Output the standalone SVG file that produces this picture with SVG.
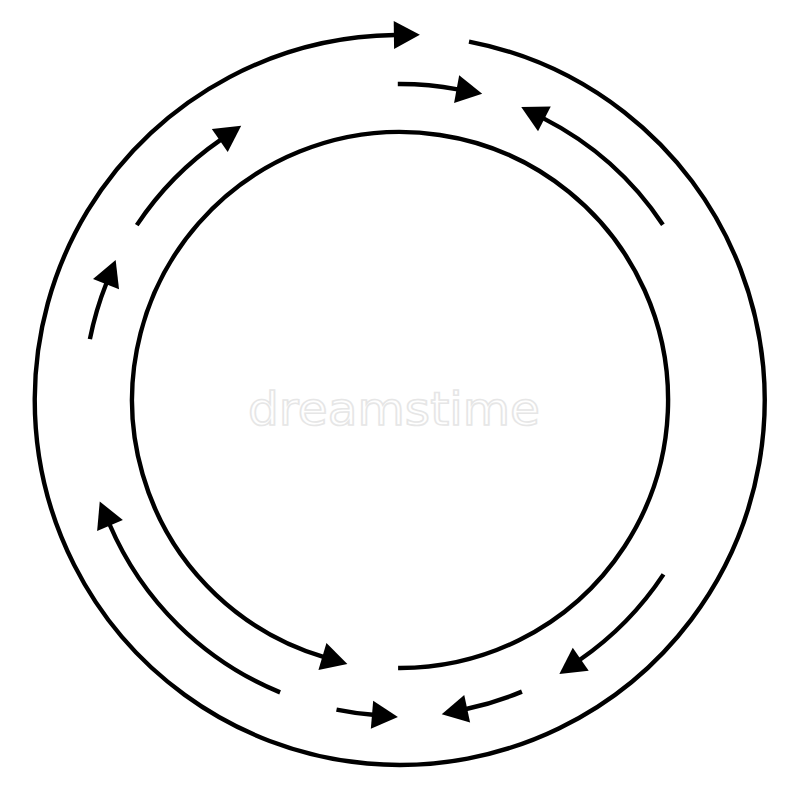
<svg xmlns="http://www.w3.org/2000/svg" width="800" height="800" viewBox="0 0 800 800">
  <style>
    .ring { fill: none; stroke: #000; stroke-width: 4.4; stroke-linecap: butt; marker-end: url(#head); }
    .wm { fill: none; stroke: #e6e6e6; stroke-width: 1.6; font-family: "DejaVu Sans", sans-serif; font-size: 46px; }
  </style>
  <defs>
    <marker id="head" markerUnits="userSpaceOnUse" markerWidth="26" markerHeight="28" viewBox="0 0 26 28" refX="1" refY="14" orient="auto" overflow="visible">
      <path d="M0,0 L26,14 L0,28 Z" fill="#000"/>
    </marker>
  </defs>
  <rect width="800" height="800" fill="#fff"/>
  <text class="wm" x="394" y="425" text-anchor="middle" textLength="292" lengthAdjust="spacingAndGlyphs">dreamstime</text>
  <g id="connectors">
    <path id="outer" class="ring" d="M469,41.6 A365,365 0 1 1 394.9,35"/>
    <path id="inner" class="ring" d="M398.1,668 A268,268 0 1 0 323.4,656.8"/>
    <path id="a1" class="ring" d="M397.8,84 A316,316 0 0 1 457.6,89.3"/>
    <path id="a2" class="ring" d="M662.9,224.7 A316,316 0 0 0 543.5,118.4"/>
    <path id="a3" class="ring" d="M136.8,225.1 A316,316 0 0 1 220.6,139.9"/>
    <path id="a4" class="ring" d="M89.9,339.2 A316,316 0 0 1 106.4,283.2"/>
    <path id="a5" class="ring" d="M280.1,692.4 A316,316 0 0 1 109.6,524.5"/>
    <path id="a6" class="ring" d="M336.5,709.6 A316,316 0 0 0 373,714.8"/>
    <path id="a7" class="ring" d="M521.9,691.6 A316,316 0 0 1 466.2,709"/>
    <path id="a8" class="ring" d="M663.5,574.4 A316,316 0 0 1 579.9,659.8"/>
  </g>
</svg>
